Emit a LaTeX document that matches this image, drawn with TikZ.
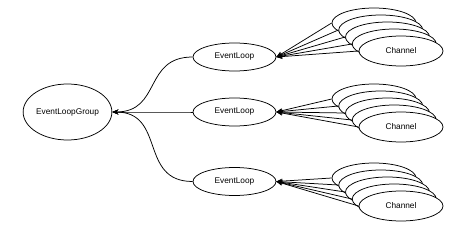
\documentclass[tikz,border=0pt]{standalone}
\usepackage{fontspec}
\setmainfont{Liberation Sans}
\usetikzlibrary{arrows.meta, positioning, shapes.geometric}

\begin{document}
\begin{tikzpicture}[x=1pt, y=-1pt, line width=0.75pt,
  every node/.style={font=\fontsize{8.3}{10}\selectfont},
  oval/.style={draw, ellipse, inner sep=0pt, minimum width=83pt, minimum height=28pt, fill=white},
  link/.style={-{Stealth[length=6pt,width=5pt]}}]
  \useasboundingbox (0,0) rectangle (474,230);
  \node[oval, minimum height=56pt] (grp) at (67.5,112) {EventLoopGroup};
  \foreach \i/\y/\c in {1/57/51, 2/112/127, 3/181.5/206} {
    \node[oval] (loop\i) at (234.5,\y) {EventLoop};
    \foreach \k in {4,...,0} {
      \node[oval, minimum width=84pt, minimum height=30pt] (ch\i\k) at (401-6.75*\k, \c-7*\k) {\ifnum\k=0 Channel\fi};
      \draw[link] (ch\i\k.west) -- (loop\i.east);
    }
    \draw[link] (loop\i.west) to[out=180, in=0, looseness=1.3] (grp.east);
  }
\end{tikzpicture}
\end{document}
